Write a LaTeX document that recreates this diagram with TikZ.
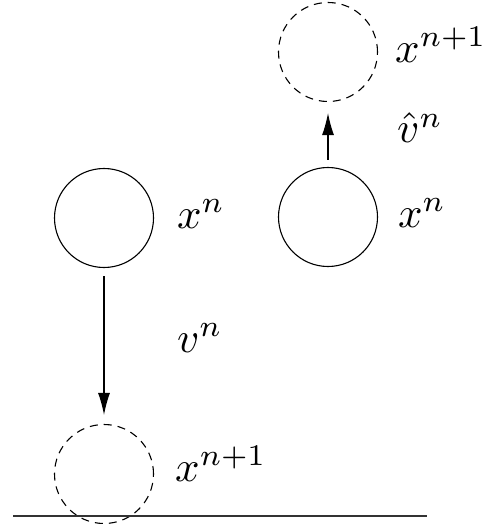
\documentclass[tikz,border=0pt]{standalone}
\usetikzlibrary{arrows.meta}
\begin{document}
\begin{tikzpicture}[x=1pt,y=-1pt,
  ball/.style={circle,draw,line width=1.1pt,minimum size=99pt,inner sep=0pt},
  ghost/.style={ball,dash pattern=on 8pt off 6pt},
  lbl/.style={scale=4.3,inner sep=0pt},
  move/.style={line width=1.1pt,-{Latex[length=22pt,width=12pt]}}]
\useasboundingbox (0,0) rectangle (497,526);
\node[ball]  (a)  at (104,218) {};
\node[ghost] (a1) at (104,474) {};
\node[ball]  (b)  at (328,217) {};
\node[ghost] (b1) at (328,52) {};
\node[lbl] (la)  at (201,214) {$x^n$};
\node[lbl] (la1) at (221,464) {$x^{n+1}$};
\node[lbl] (lv)  at (200,338) {$v^n$};
\node[lbl] (lb)  at (422,213) {$x^n$};
\node[lbl] (lb1) at (441,45) {$x^{n+1}$};
\node[lbl] (lvh) at (420,128) {$\hat v^n$};
\draw[move,shorten <=8pt,shorten >=9pt] (a.south) -- (a1.north);
\draw[move,shorten <=7pt,shorten >=11pt] (b.north) -- (b1.south);
\coordinate (g1) at (13,516);
\coordinate (g2) at (427,516);
\draw[line width=1.6pt,black!80] (g1) -- (g2);
\end{tikzpicture}
\end{document}
